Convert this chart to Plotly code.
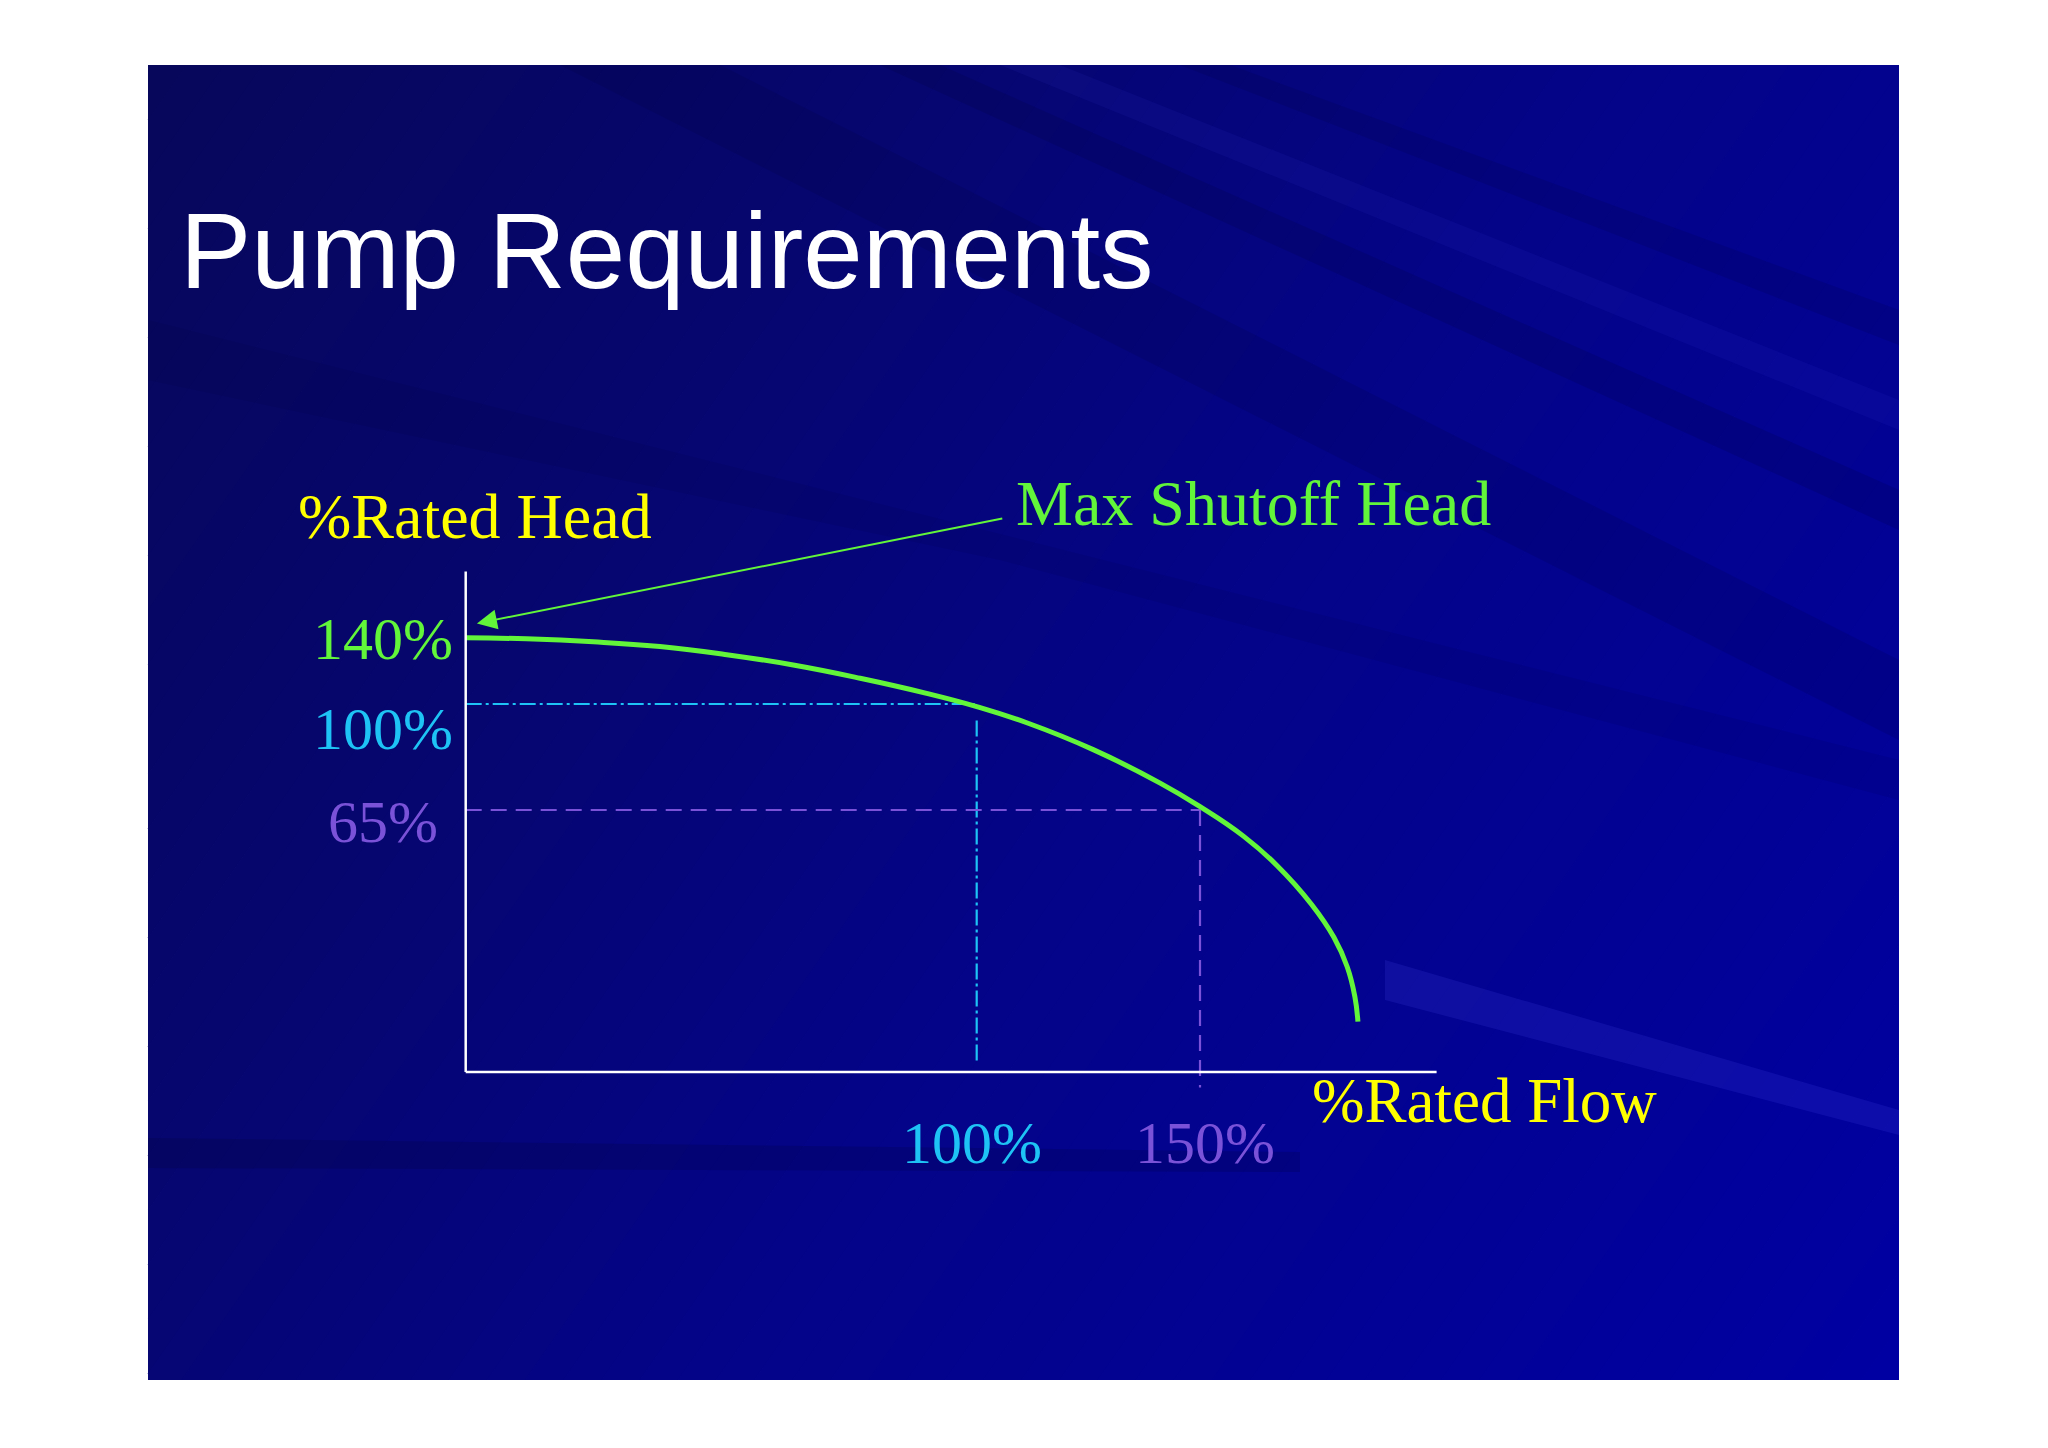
import math
import plotly.graph_objects as go

# ---------------- data (schematic units) ----------------
# pump curve: flow position (100 = rated flow) vs head position (100 = rated head)
flow_curve = [0, 11.9, 25.0, 38.0, 51.1, 64.1, 77.2, 90.2, 100.0, 109.8, 122.8, 135.9,
              143.7, 152.2, 158.7, 165.5, 169.9, 172.5, 174.0, 174.6]
head_curve = [118.0, 117.7, 116.9, 115.6, 113.4, 110.6, 107.0, 102.9, 99.3, 94.9, 87.6, 78.5,
              72.1, 64.1, 56.2, 45.6, 36.6, 28.6, 20.5, 13.7]

head_labels = ["140%", "100%", "65%"]
head_levels = [118.0, 100.0, 71.2]
flow_labels = ["100%", "150%"]
flow_levels = [100.0, 143.7]

axis_flow_max = 190.0
axis_head_max = 136.0

title_text = "Pump Requirements"
y_title = "%Rated Head"
x_title = "%Rated Flow"
arrow_label = "Max Shutoff Head"

# ---------------- styling ----------------
PAGE_W, PAGE_H = 2048, 1448
OFF = 8  # default body margin of the html page
W, H = PAGE_W - 2 * OFF, PAGE_H - 2 * OFF
GREEN = "#62F53A"
CYAN = "#1EC3F5"
PURPLE = "#7A52D8"
YELLOW = "#FFFF00"
SERIF = "Liberation Serif, Times New Roman, serif"
SANS = "Liberation Sans, Arial, sans-serif"
FS = 64
FS_NUM = 60

# page pixel mapping of the diagram axes
X0PX, XSC = 465.7, 5.11
Y0PX, YSC = 1072.0, 3.68


def px(x, y):
    """page pixel -> paper fraction"""
    return (x - OFF) / W, (H - (y - OFF)) / H


def data_py(v):
    return Y0PX - YSC * v


# slide rectangle (page pixels)
SX0, SY0, SX1, SY1 = 148, 65, 1899, 1380


def clip_poly(poly, a, b, c):
    out = []
    n = len(poly)
    for i in range(n):
        p, q = poly[i], poly[(i + 1) % n]
        fp = a * p[0] + b * p[1] - c
        fq = a * q[0] + b * q[1] - c
        if fp <= 0:
            out.append(p)
        if (fp < 0 < fq) or (fq < 0 < fp):
            t = fp / (fp - fq)
            out.append((p[0] + t * (q[0] - p[0]), p[1] + t * (q[1] - p[1])))
    return out


def path_from(poly):
    pts = [px(x, y) for x, y in poly]
    return "M " + " L ".join(f"{x:.5f},{y:.5f}" for x, y in pts) + " Z"


def hex2rgb(h):
    h = h.lstrip("#")
    return tuple(int(h[i:i + 2], 16) for i in (0, 2, 4))


def lerp_color(stops, t):
    for (t0, c0), (t1, c1) in zip(stops, stops[1:]):
        if t0 <= t <= t1:
            u = (t - t0) / (t1 - t0) if t1 > t0 else 0
            a, b = hex2rgb(c0), hex2rgb(c1)
            return "rgb(%d,%d,%d)" % tuple(round(a[i] + (b[i] - a[i]) * u) for i in range(3))
    return stops[-1][1]


shapes = []
rect = [(SX0, SY0), (SX1, SY0), (SX1, SY1), (SX0, SY1)]
ang = math.radians(35)
dx, dy = math.cos(ang), math.sin(ang)
proj = [x * dx + y * dy for x, y in rect]
pmin, pmax = min(proj), max(proj)
stops = [(0, "#07075A"), (0.3, "#060670"), (0.55, "#040488"), (0.8, "#020296"), (1, "#0000A2")]
N = 70
for i in range(N):
    lo = pmin + (pmax - pmin) * i / N
    hi = pmin + (pmax - pmin) * (i + 1) / N + 0.8
    poly = clip_poly(rect, dx, dy, hi)
    poly = clip_poly(poly, -dx, -dy, -lo)
    if len(poly) >= 3:
        shapes.append(dict(type="path", xref="paper", yref="paper", path=path_from(poly),
                           fillcolor=lerp_color(stops, (i + 0.5) / N), line=dict(width=0),
                           layer="below"))

# soft decorative streaks
streaks = [
    ([(560, 65), (720, 65), (1899, 660), (1899, 740)], "rgba(0,0,40,0.12)"),
    ([(880, 65), (940, 65), (1899, 490), (1899, 530)], "rgba(0,0,40,0.14)"),
    ([(1180, 65), (1230, 65), (1899, 310), (1899, 345)], "rgba(0,0,40,0.12)"),
    ([(1000, 65), (1060, 65), (1899, 400), (1899, 430)], "rgba(80,80,255,0.07)"),
    ([(148, 320), (148, 380), (1000, 560), (1899, 800), (1899, 760)], "rgba(0,0,40,0.08)"),
    ([(1385, 960), (1899, 1110), (1899, 1135), (1385, 1000)], "rgba(90,90,255,0.14)"),
    ([(148, 1138), (1300, 1152), (1300, 1172), (148, 1168)], "rgba(0,0,40,0.16)"),
]
for poly, col in streaks:
    cp = poly
    for a, b, c in [(1, 0, SX1), (-1, 0, -SX0), (0, 1, SY1), (0, -1, -SY0)]:
        cp = clip_poly(cp, a, b, c)
    if len(cp) >= 3:
        shapes.append(dict(type="path", xref="paper", yref="paper", path=path_from(cp),
                           fillcolor=col, line=dict(width=0), layer="below"))

# axis lines (white)
shapes.append(dict(type="line", xref="x", yref="y", x0=0, x1=axis_flow_max, y0=0, y1=0,
                   line=dict(color="white", width=2.5), layer="above"))
shapes.append(dict(type="line", xref="x", yref="y", x0=0, x1=0, y0=0, y1=axis_head_max,
                   line=dict(color="white", width=2.5), layer="above"))

fig = go.Figure()

DASHDOT = "16px,4px,3px,4px"
DASH = "16px,9px"
fig.add_trace(go.Scatter(x=[0, flow_levels[0]], y=[head_levels[1], head_levels[1]], mode="lines",
                         line=dict(color=CYAN, width=2.2, dash=DASHDOT), hoverinfo="skip"))
fig.add_trace(go.Scatter(x=[flow_levels[0], flow_levels[0]], y=[head_levels[1] - 4.5, 2.6], mode="lines",
                         line=dict(color=CYAN, width=2.2, dash=DASHDOT), hoverinfo="skip"))
fig.add_trace(go.Scatter(x=[0, flow_levels[1]], y=[head_levels[2], head_levels[2]], mode="lines",
                         line=dict(color=PURPLE, width=2.2, dash=DASH), hoverinfo="skip"))
fig.add_trace(go.Scatter(x=[flow_levels[1], flow_levels[1]], y=[head_levels[2], -4.2], mode="lines",
                         line=dict(color=PURPLE, width=2.2, dash=DASH), hoverinfo="skip"))
fig.add_trace(go.Scatter(x=flow_curve, y=head_curve, mode="lines",
                         line=dict(color=GREEN, width=5, shape="spline", smoothing=1.3),
                         hoverinfo="skip"))

annotations = []
tx, ty = px(178, 251)
annotations.append(dict(x=tx, y=ty, xref="paper", yref="paper", text=title_text, showarrow=False,
                        xanchor="left", yanchor="middle", font=dict(family=SANS, size=106.8, color="white")))
ax_, ay_ = px(296, 516)
annotations.append(dict(x=ax_, y=ay_, xref="paper", yref="paper", text=y_title, showarrow=False,
                        xanchor="left", yanchor="middle", font=dict(family=SERIF, size=FS, color=YELLOW)))
bx, by = px(1310, 1101)
annotations.append(dict(x=bx, y=by, xref="paper", yref="paper", text=x_title, showarrow=False,
                        xanchor="left", yanchor="middle", font=dict(family=SERIF, size=63, color=YELLOW)))
mx, my = px(1014, 504)
annotations.append(dict(x=mx, y=my, xref="paper", yref="paper", text=arrow_label, showarrow=False,
                        xanchor="left", yanchor="middle", font=dict(family=SERIF, size=FS, color=GREEN)))
annotations.append(dict(x=2.2, y=head_levels[0] + 3.9, xref="x", yref="y", ax=105.3, ay=150.5,
                        axref="x", ayref="y", text="", showarrow=True, arrowhead=2, arrowsize=2.0,
                        arrowwidth=2, arrowcolor=GREEN))
head_colors = [GREEN, CYAN, PURPLE]
head_shift = [1, 25, 12]  # label centre below its level, pixels
for lab, lev, col, sh in zip(head_labels, head_levels, head_colors, head_shift):
    lx, ly = px(383, data_py(lev) + sh)
    annotations.append(dict(x=lx, y=ly, xref="paper", yref="paper", text=lab, showarrow=False,
                            xanchor="center", yanchor="middle",
                            font=dict(family=SERIF, size=FS_NUM, color=col)))
flow_colors = [CYAN, PURPLE]
flow_shift = [-5, 5]
for lab, lev, col, sh in zip(flow_labels, flow_levels, flow_colors, flow_shift):
    annotations.append(dict(x=lev, y=0, xref="x", yref="y", text=lab, showarrow=False,
                            xanchor="center", yanchor="middle", xshift=sh, yshift=-71,
                            font=dict(family=SERIF, size=FS_NUM, color=col)))

xr = [-10, 200]
yr = [-10, 140]
xd = [(X0PX + XSC * xr[0] - OFF) / W, (X0PX + XSC * xr[1] - OFF) / W]
yd = [(H - (data_py(yr[0]) - OFF)) / H, (H - (data_py(yr[1]) - OFF)) / H]

fig.update_layout(
    width=W, height=H, autosize=False,
    margin=dict(l=0, r=0, t=0, b=0, pad=0),
    paper_bgcolor="white", plot_bgcolor="rgba(0,0,0,0)",
    showlegend=False,
    xaxis=dict(range=xr, domain=xd, visible=False, fixedrange=True),
    yaxis=dict(range=yr, domain=yd, visible=False, fixedrange=True),
    shapes=shapes,
    annotations=annotations,
)

fig.write_html("out.html", config={"displayModeBar": False})
